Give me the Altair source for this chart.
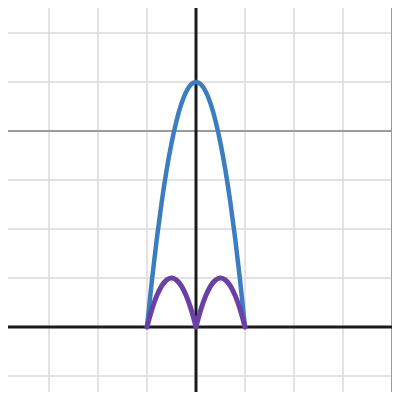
import pandas as pd
import altair as alt

# Curve samples (units = one minor grid square)
BLUE_X = [-1.0, -0.9, -0.8, -0.7, -0.6, -0.5, -0.4, -0.3, -0.2, -0.1, 0.0,
          0.1, 0.2, 0.3, 0.4, 0.5, 0.6, 0.7, 0.8, 0.9, 1.0]
BLUE_Y = [0.0, 0.95, 1.8, 2.55, 3.2, 3.75, 4.2, 4.55, 4.8, 4.95, 5.0,
          4.95, 4.8, 4.55, 4.2, 3.75, 3.2, 2.55, 1.8, 0.95, 0.0]

PURPLE_LEFT_X = [-1.0, -0.9, -0.8, -0.7, -0.6, -0.5, -0.4, -0.3, -0.2, -0.1, 0.0]
PURPLE_LEFT_Y = [0.0, 0.36, 0.64, 0.84, 0.96, 1.0, 0.96, 0.84, 0.64, 0.36, 0.0]
PURPLE_RIGHT_X = [0.0, 0.1, 0.2, 0.3, 0.4, 0.5, 0.6, 0.7, 0.8, 0.9, 1.0]
PURPLE_RIGHT_Y = [0.0, 0.36, 0.64, 0.84, 0.96, 1.0, 0.96, 0.84, 0.64, 0.36, 0.0]

# Grid positions
MINOR_X = [-3, -2, -1, 1, 2, 3]
MAJOR_X = [4]
MINOR_Y = [-1, 1, 2, 3, 5, 6]
MAJOR_Y = [4]
AXIS_AT = [0]

# 49 px per unit, origin placed where the reference has it
x_scale = alt.Scale(domain=[-188 / 49, 196 / 49], nice=False, zero=False)
y_scale = alt.Scale(domain=[-65 / 49, 319 / 49], nice=False, zero=False)


def vrules(values, color, width):
    return alt.Chart(pd.DataFrame({"x": values})).mark_rule(
        color=color, strokeWidth=width
    ).encode(x=alt.X("x:Q", scale=x_scale, axis=None))


def hrules(values, color, width):
    return alt.Chart(pd.DataFrame({"y": values})).mark_rule(
        color=color, strokeWidth=width
    ).encode(y=alt.Y("y:Q", scale=y_scale, axis=None))


def curve(df, color, width):
    return alt.Chart(df).mark_line(
        color=color, strokeWidth=width, interpolate="monotone",
        strokeCap="round", strokeJoin="round", clip=True
    ).encode(
        x=alt.X("x:Q", scale=x_scale, axis=None),
        y=alt.Y("y:Q", scale=y_scale, axis=None),
        detail="part:N",
        order="i:Q",
    )


blue = pd.DataFrame({"x": BLUE_X, "y": BLUE_Y, "part": "b", "i": range(len(BLUE_X))})
purple = pd.concat([
    pd.DataFrame({"x": PURPLE_LEFT_X, "y": PURPLE_LEFT_Y, "part": "l",
                  "i": range(len(PURPLE_LEFT_X))}),
    pd.DataFrame({"x": PURPLE_RIGHT_X, "y": PURPLE_RIGHT_Y, "part": "r",
                  "i": range(len(PURPLE_RIGHT_X))}),
])

chart = alt.layer(
    vrules(MINOR_X, "#dadada", 1.5),
    hrules(MINOR_Y, "#dadada", 1.5),
    vrules(MAJOR_X, "#9a9a9a", 2),
    hrules(MAJOR_Y, "#9a9a9a", 2),
    vrules(AXIS_AT, "#1a1a1a", 3),
    hrules(AXIS_AT, "#1a1a1a", 3),
    curve(blue, "#3b7dc0", 4.5),
    curve(purple, "#6a40a6", 5),
).properties(
    width=384, height=384, padding=0, autosize="none", background="white"
).configure_view(stroke=None)

chart.save("out.html", embed_options={"renderer": "svg", "actions": False})
